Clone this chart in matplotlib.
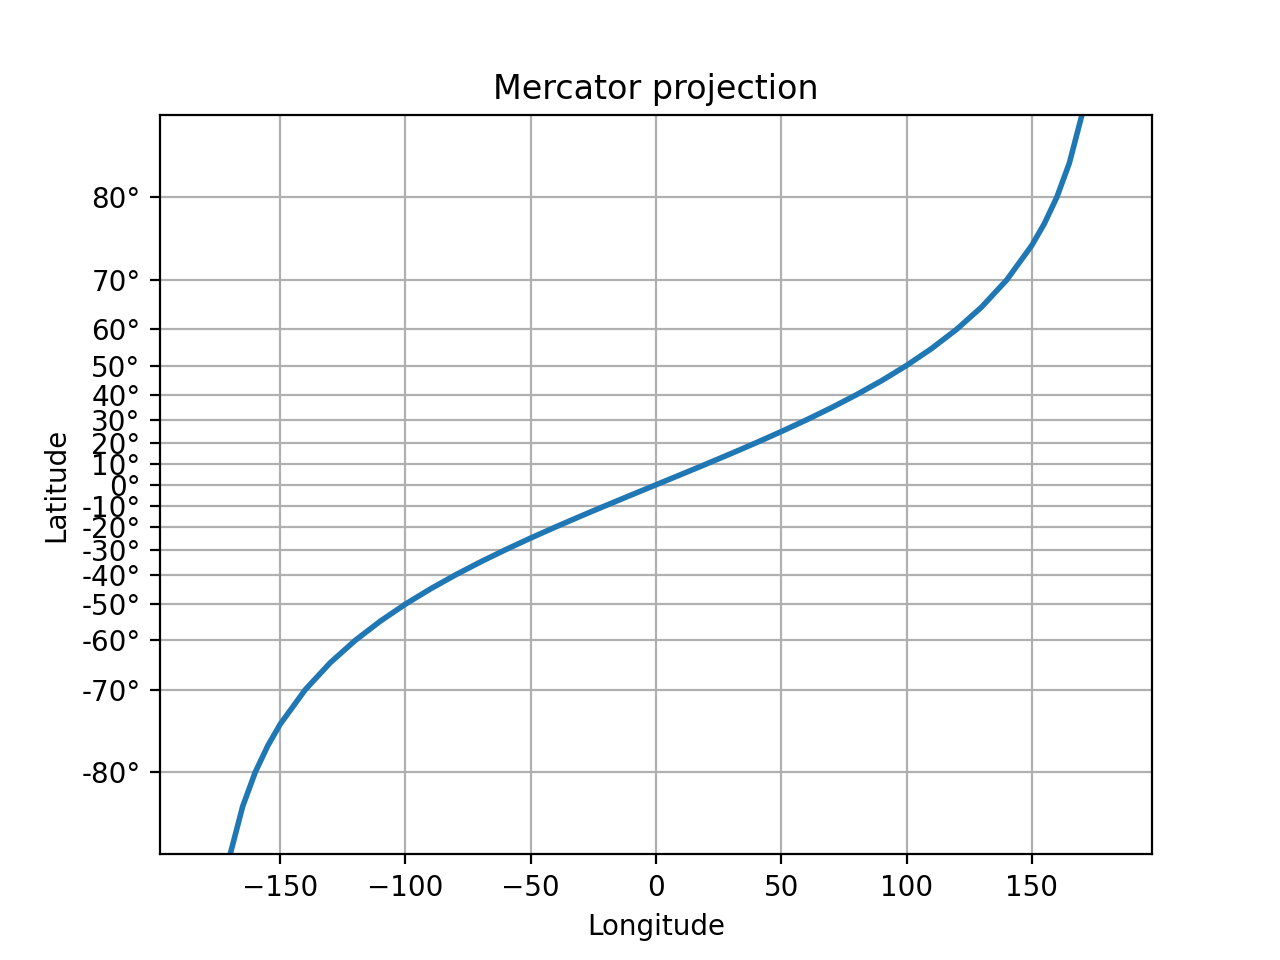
import numpy as np
import matplotlib
matplotlib.use("Agg")
import matplotlib.pyplot as plt
from matplotlib.ticker import FixedLocator, FuncFormatter

longitude = [-170, -165, -160, -155, -150, -140, -130, -120, -110, -100, -90, -80, -70, -60, -50, -40, -30, -20, -10,
             0, 10, 20, 30, 40, 50, 60, 70, 80, 90, 100, 110, 120, 130, 140, 150, 155, 160, 165, 170]
latitude = [-85, -82.5, -80, -77.5, -75, -70, -65, -60, -55, -50, -45, -40, -35, -30, -25, -20, -15, -10, -5,
            0, 5, 10, 15, 20, 25, 30, 35, 40, 45, 50, 55, 60, 65, 70, 75, 77.5, 80, 82.5, 85]
lat_ticks = [-80, -70, -60, -50, -40, -30, -20, -10, 0, 10, 20, 30, 40, 50, 60, 70, 80]
thresh = 85

def fwd(d):
    r = np.radians(np.clip(d, -89.9, 89.9))
    return np.log(np.abs(np.tan(r) + 1 / np.cos(r)))

def inv(y):
    return np.degrees(np.arctan(np.sinh(y)))

fig, ax = plt.subplots(figsize=(6.4, 4.8), dpi=200)
line, = ax.plot(longitude, latitude, '-', lw=2)
line.get_path()._interpolation_steps = 40
ax.set_yscale('function', functions=(fwd, inv))
ax.yaxis.set_major_locator(FixedLocator(lat_ticks))
ax.yaxis.set_minor_locator(FixedLocator([]))
ax.yaxis.set_major_formatter(FuncFormatter(lambda v, p: f"{v:.0f}\N{DEGREE SIGN}"))
ax.set_ylim(-thresh, thresh)
ax.set_xlim(-198, 198)
ax.set_xlabel('Longitude')
ax.set_ylabel('Latitude')
ax.set_title('Mercator projection')
ax.grid(True)
fig.savefig('out.png')
